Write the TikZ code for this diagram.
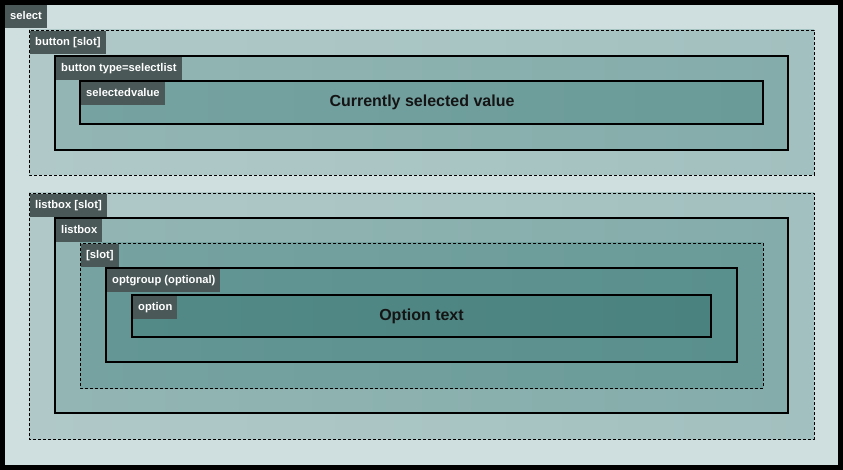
\documentclass[tikz,border=0pt]{standalone}
\usepackage{fontspec}
\setmainfont{Liberation Sans}
\definecolor{outerbg}{HTML}{CFDEDE}
\definecolor{lbl}{HTML}{4A5858}
\definecolor{laL}{HTML}{B0C9C8}\definecolor{laR}{HTML}{A2C0BF}
\definecolor{lbL}{HTML}{93B6B4}\definecolor{lbR}{HTML}{84ACAA}
\definecolor{lcL}{HTML}{76A3A1}\definecolor{lcR}{HTML}{6A9B99}
\definecolor{ldL}{HTML}{639694}\definecolor{ldR}{HTML}{598F8D}
\definecolor{leL}{HTML}{538A88}\definecolor{leR}{HTML}{4A8280}
\tikzset{
  tag/.style={fill=lbl, text=white, font=\bfseries\fontsize{11.2}{13}\selectfont, anchor=north west, inner xsep=5pt, inner ysep=0pt, minimum height=23pt, text height=8.5pt, text depth=2pt},
  solidbox/.style={draw=black, line width=2pt},
  dashbox/.style={draw=black, line width=0.8pt, dash pattern=on 3pt off 2pt},
  maintext/.style={font=\bfseries\fontsize{16}{19}\selectfont, text=black!92, inner sep=0pt},
}
\begin{document}
\begin{tikzpicture}[x=1pt,y=-1pt]
\useasboundingbox (0,0) rectangle (843,470);
\fill[black] (0,0) rectangle (843,470);
\fill[outerbg] (5,5) rectangle (838,465);
% button slot
\shade[left color=laL, right color=laR] (29,30) rectangle (814,175);
\draw[dashbox] (29,30) rectangle (814,175);
\shade[left color=lbL, right color=lbR] (55,56) rectangle (788,150);
\draw[solidbox] (55,56) rectangle (788,150);
\shade[left color=lcL, right color=lcR] (80,81) rectangle (763,124);
\draw[solidbox] (80,81) rectangle (763,124);
% listbox slot
\shade[left color=laL, right color=laR] (29,193) rectangle (814,439);
\draw[dashbox] (29,193) rectangle (814,439);
\shade[left color=lbL, right color=lbR] (55,218) rectangle (788,413);
\draw[solidbox] (55,218) rectangle (788,413);
\shade[left color=lcL, right color=lcR] (80,243) rectangle (763,388);
\draw[dashbox] (80,243) rectangle (763,388);
\shade[left color=ldL, right color=ldR] (106,268) rectangle (737,362);
\draw[solidbox] (106,268) rectangle (737,362);
\shade[left color=leL, right color=leR] (132,295) rectangle (711,337);
\draw[solidbox] (132,295) rectangle (711,337);
% labels
\node[tag] (tselect) at (5,5) {select};
\node[tag] (tbslot) at (30,31) {button [slot]};
\node[tag] (tbtype) at (56,57) {button type=selectlist};
\node[tag] (tsel) at (81,82) {selectedvalue};
\node[tag] (tlslot) at (30,194) {listbox [slot]};
\node[tag] (tlist) at (56,219) {listbox};
\node[tag] (tslot) at (81,244) {[slot]};
\node[tag] (topt) at (107,269) {optgroup (optional)};
\node[tag] (toption) at (133,296) {option};
\node[maintext] (cur) at (422,102.5) {Currently selected value};
\node[maintext] (otext) at (421.5,316) {Option text};
\end{tikzpicture}
\end{document}
